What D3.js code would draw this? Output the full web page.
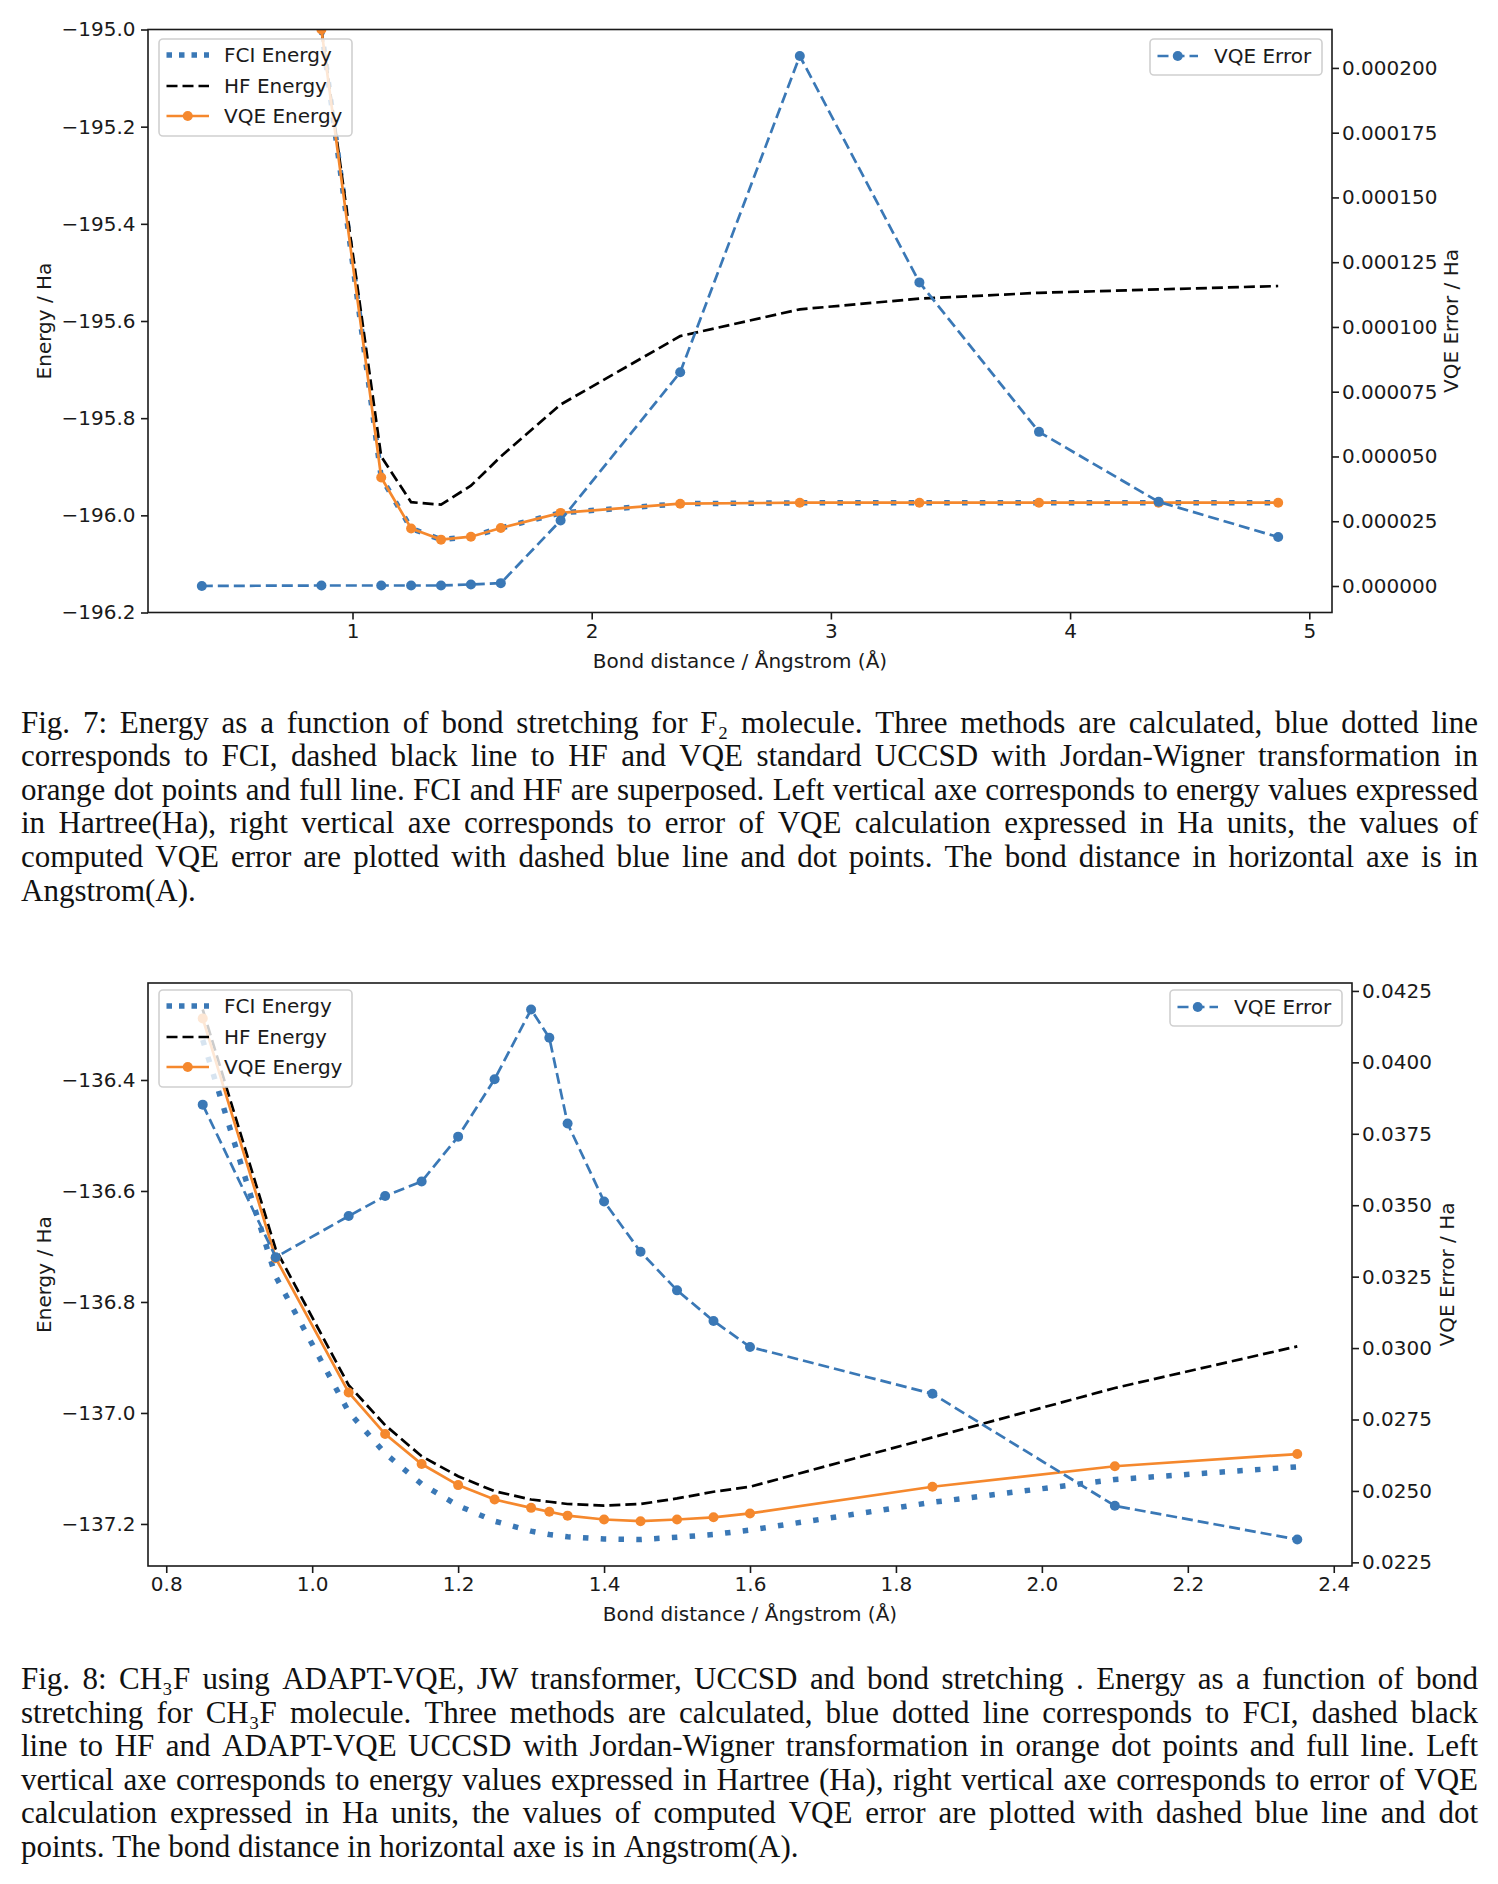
<!DOCTYPE html>
<html><head><meta charset="utf-8">
<script src="https://cdn.jsdelivr.net/npm/d3@7"></script>
<style>body{margin:0;background:#fff}svg{display:block}</style>
</head><body><svg id="c" width="1498" height="1884"></svg>
<script>
// ---------------- DATA ----------------
// Fig. 7  F2
const f2Dist = [0.37, 0.87, 1.12, 1.245, 1.37, 1.495, 1.62, 1.87, 2.37, 2.87, 3.37, 3.87, 4.37, 4.87];
const f2Fci  = [-185.0, -195.0, -195.922, -196.027, -196.050, -196.044, -196.026, -195.995, -195.9761, -195.9742, -195.9741, -195.9741, -195.9740, -195.9740];
const f2Hf   = [-184.5, -195.0, -195.879, -195.973, -195.978, -195.939, -195.879, -195.772, -195.631, -195.576, -195.554, -195.542, -195.535, -195.528];
const f2Vqe  = [-185.0, -195.0, -195.922, -196.027, -196.050, -196.044, -196.026, -195.995, -195.976, -195.974, -195.974, -195.974, -195.974, -195.974];
const f2Err  = [0.0000000, 0.0000002, 0.0000002, 0.0000002, 0.0000002, 0.0000006, 0.0000011, 0.0000253, 0.0000825, 0.0002046, 0.0001172, 0.0000595, 0.0000325, 0.0000189];
const f2EnergyTicks = [-196.2, -196.0, -195.8, -195.6, -195.4, -195.2, -195.0];
const f2DistTicks = [1, 2, 3, 4, 5];
const f2ErrTicks = [0, 0.000025, 0.00005, 0.000075, 0.0001, 0.000125, 0.00015, 0.000175, 0.0002];

// Fig. 8  CH3F
const chDist = [0.85, 0.95, 1.05, 1.1, 1.15, 1.2, 1.25, 1.3, 1.325, 1.35, 1.4, 1.45, 1.5, 1.55, 1.6, 1.85, 2.1, 2.35];
const chFci  = [-136.328, -136.754, -136.998, -137.073, -137.128, -137.167, -137.195, -137.213, -137.219, -137.223, -137.227, -137.228, -137.224, -137.219, -137.211, -137.161, -137.120, -137.097];
const chHf   = [-136.273, -136.705, -136.950, -137.022, -137.078, -137.114, -137.141, -137.156, -137.160, -137.164, -137.167, -137.164, -137.154, -137.142, -137.133, -137.044, -136.955, -136.880];
const chVqe  = [-136.289, -136.721, -136.963, -137.038, -137.092, -137.130, -137.156, -137.171, -137.178, -137.185, -137.192, -137.195, -137.192, -137.188, -137.181, -137.133, -137.096, -137.074];
const chErr  = [0.03852, 0.03318, 0.03462, 0.03532, 0.03583, 0.03740, 0.03941, 0.04185, 0.04086, 0.03786, 0.03513, 0.03337, 0.03202, 0.03095, 0.03004, 0.02840, 0.02448, 0.02330];
const chEnergyTicks = [-137.2, -137.0, -136.8, -136.6, -136.4];
const chDistTicks = [0.8, 1.0, 1.2, 1.4, 1.6, 1.8, 2.0, 2.2, 2.4];
const chErrTicks = [0.0225, 0.025, 0.0275, 0.03, 0.0325, 0.035, 0.0375, 0.04, 0.0425];

const energyLabels = ["FCI Energy", "HF Energy", "VQE Energy"];
const errorLabel = "VQE Error";
const xLabel = "Bond distance / Ångstrom (Å)";
const yLabel = "Energy / Ha";
const y2Label = "VQE Error / Ha";

const caption7 = [
  "Fig. 7: Energy as a function of bond stretching for F₂ molecule. Three methods are calculated, blue dotted line",
  "corresponds to FCI, dashed black line to HF and VQE standard UCCSD with Jordan-Wigner transformation in",
  "orange dot points and full line. FCI and HF are superposed. Left vertical axe corresponds to energy values expressed",
  "in Hartree(Ha), right vertical axe corresponds to error of VQE calculation expressed in Ha units, the values of",
  "computed VQE error are plotted with dashed blue line and dot points. The bond distance in horizontal axe is in",
  "Angstrom(A)."
];
const caption8 = [
  "Fig. 8: CH₃F using ADAPT-VQE, JW transformer, UCCSD and bond stretching . Energy as a function of bond",
  "stretching for CH₃F molecule. Three methods are calculated, blue dotted line corresponds to FCI, dashed black",
  "line to HF and ADAPT-VQE UCCSD with Jordan-Wigner transformation in orange dot points and full line. Left",
  "vertical axe corresponds to energy values expressed in Hartree (Ha), right vertical axe corresponds to error of VQE",
  "calculation expressed in Ha units, the values of computed VQE error are plotted with dashed blue line and dot",
  "points. The bond distance in horizontal axe is in Angstrom(A)."
];

// ---------------- DRAWING ----------------
const svg = d3.select('#c');
svg.append('rect').attr('width', 1498).attr('height', 1884).attr('fill', '#fff');
const SANS = "'DejaVu Sans', sans-serif";
const SERIF = "'Liberation Serif', 'Times New Roman', 'DejaVu Serif', serif";
const BLUE = '#3a78b6', ORANGE = '#f5882d', INK = '#1a1a1a';
const FS = 20;

function padExtent(a) {
  const [lo, hi] = d3.extent(a);
  const r = hi - lo;
  return [lo - 0.05 * r, hi + 0.05 * r];
}

function styleAxis(ax) {
  ax.attr('font-size', FS).attr('font-family', SANS).attr('color', INK);
  ax.select('.domain').remove();
  ax.selectAll('.tick line').attr('stroke-width', 1.6);
}

function drawChart(c, id) {
  const g = svg.append('g');
  const x = d3.scaleLinear().domain(padExtent(c.dist)).range([c.left, c.right]);
  const yE = d3.scaleLinear().domain(c.eDomain || padExtent(c.fci.concat(c.hf, c.vqe))).range([c.bottom, c.top]);
  const yR = d3.scaleLinear().domain(padExtent(c.err)).range([c.bottom, c.top]);
  const clipId = 'clip' + id;
  g.append('clipPath').attr('id', clipId).append('rect')
    .attr('x', c.left).attr('y', c.top).attr('width', c.right - c.left).attr('height', c.bottom - c.top);
  const idx = d3.range(c.dist.length);
  const lineOf = (arr, ys) => d3.line().x(i => x(c.dist[i])).y(i => ys(arr[i]))(idx);

  const p1 = g.append('g').attr('clip-path', `url(#${clipId})`);
  p1.append('path').attr('d', lineOf(c.fci, yE)).attr('fill', 'none').attr('stroke', BLUE)
    .attr('stroke-width', 5.5).attr('stroke-dasharray', '5.5,12.3');
  p1.append('path').attr('d', lineOf(c.hf, yE)).attr('fill', 'none').attr('stroke', '#000')
    .attr('stroke-width', 2.7).attr('stroke-dasharray', '11,5');
  p1.append('path').attr('d', lineOf(c.vqe, yE)).attr('fill', 'none').attr('stroke', ORANGE)
    .attr('stroke-width', 2.7);
  p1.selectAll(null).data(idx).enter().append('circle')
    .attr('cx', i => x(c.dist[i])).attr('cy', i => yE(c.vqe[i])).attr('r', 5).attr('fill', ORANGE);

  // legend 1
  const L = c.leg1;
  const lg = g.append('g');
  lg.append('rect').attr('x', L.x).attr('y', L.y).attr('width', L.w).attr('height', L.h).attr('rx', 4)
    .attr('fill', '#fff').attr('fill-opacity', 0.8).attr('stroke', '#d0d0d0').attr('stroke-width', 1.6);
  const rowsY = [L.y + 16, L.y + 47, L.y + 77];
  const hx0 = L.x + 7.5, hx1 = L.x + 50, tx = L.x + 65;
  lg.append('line').attr('x1', hx0).attr('x2', hx1).attr('y1', rowsY[0]).attr('y2', rowsY[0])
    .attr('stroke', BLUE).attr('stroke-width', 5.5).attr('stroke-dasharray', '5.5,7');
  lg.append('line').attr('x1', hx0).attr('x2', hx1).attr('y1', rowsY[1]).attr('y2', rowsY[1])
    .attr('stroke', '#000').attr('stroke-width', 2.7).attr('stroke-dasharray', '11,5');
  lg.append('line').attr('x1', hx0).attr('x2', hx1).attr('y1', rowsY[2]).attr('y2', rowsY[2])
    .attr('stroke', ORANGE).attr('stroke-width', 2.7);
  lg.append('circle').attr('cx', (hx0 + hx1) / 2).attr('cy', rowsY[2]).attr('r', 5).attr('fill', ORANGE);
  energyLabels.forEach((t, k) => {
    lg.append('text').attr('x', tx).attr('y', rowsY[k]).attr('dy', '0.36em')
      .attr('font-family', SANS).attr('font-size', FS).attr('fill', INK).text(t);
  });

  // error series (twin axis)
  const p2 = g.append('g').attr('clip-path', `url(#${clipId})`);
  p2.append('path').attr('d', lineOf(c.err, yR)).attr('fill', 'none').attr('stroke', BLUE)
    .attr('stroke-width', 2.7).attr('stroke-dasharray', '11,5');
  p2.selectAll(null).data(idx).enter().append('circle')
    .attr('cx', i => x(c.dist[i])).attr('cy', i => yR(c.err[i])).attr('r', 5).attr('fill', BLUE);

  // legend 2
  const M = c.leg2;
  const mg = g.append('g');
  mg.append('rect').attr('x', M.x).attr('y', M.y).attr('width', M.w).attr('height', M.h).attr('rx', 4)
    .attr('fill', '#fff').attr('fill-opacity', 0.8).attr('stroke', '#d0d0d0').attr('stroke-width', 1.6);
  const my = M.y + 17, mx0 = M.x + 7.5, mx1 = M.x + 48;
  mg.append('line').attr('x1', mx0).attr('x2', mx1).attr('y1', my).attr('y2', my)
    .attr('stroke', BLUE).attr('stroke-width', 2.7).attr('stroke-dasharray', '11,5');
  mg.append('circle').attr('cx', (mx0 + mx1) / 2).attr('cy', my).attr('r', 5).attr('fill', BLUE);
  mg.append('text').attr('x', M.x + 64).attr('y', my).attr('dy', '0.36em')
    .attr('font-family', SANS).attr('font-size', FS).attr('fill', INK).text(errorLabel);

  // frame
  g.append('rect').attr('x', c.left).attr('y', c.top).attr('width', c.right - c.left).attr('height', c.bottom - c.top)
    .attr('fill', 'none').attr('stroke', INK).attr('stroke-width', 1.6);

  // axes
  const axB = g.append('g').attr('transform', `translate(0,${c.bottom})`)
    .call(d3.axisBottom(x).tickValues(c.distTicks).tickFormat(d3.format(c.distFmt)).tickSize(7).tickPadding(4));
  styleAxis(axB);
  const axL = g.append('g').attr('transform', `translate(${c.left},0)`)
    .call(d3.axisLeft(yE).tickValues(c.eTicks).tickFormat(d3.format('.1f')).tickSize(7).tickPadding(5.5));
  styleAxis(axL);
  const axR = g.append('g').attr('transform', `translate(${c.right},0)`)
    .call(d3.axisRight(yR).tickValues(c.errTicks).tickFormat(d3.format(c.errFmt)).tickSize(7).tickPadding(3));
  styleAxis(axR);

  // axis labels
  const midY = (c.top + c.bottom) / 2;
  g.append('text').attr('x', (c.left + c.right) / 2).attr('y', c.bottom + 55).attr('text-anchor', 'middle')
    .attr('font-family', SANS).attr('font-size', FS).attr('fill', INK).text(xLabel);
  g.append('text').attr('transform', `translate(${c.yLabelX},${midY}) rotate(-90)`).attr('text-anchor', 'middle')
    .attr('font-family', SANS).attr('font-size', FS).attr('fill', INK).text(yLabel);
  g.append('text').attr('transform', `translate(${c.y2LabelX},${midY}) rotate(-90)`).attr('text-anchor', 'middle')
    .attr('font-family', SANS).attr('font-size', FS).attr('fill', INK).text(y2Label);
}

drawChart({
  dist: f2Dist, fci: f2Fci, hf: f2Hf, vqe: f2Vqe, err: f2Err,
  eDomain: [d3.min(f2EnergyTicks), d3.max(f2EnergyTicks)],
  eTicks: f2EnergyTicks, distTicks: f2DistTicks, errTicks: f2ErrTicks,
  distFmt: 'd', errFmt: '.6f',
  left: 148, right: 1332, top: 29.5, bottom: 612.5,
  yLabelX: 51, y2LabelX: 1458,
  leg1: {x: 159, y: 39, w: 193, h: 97},
  leg2: {x: 1150, y: 39, w: 172, h: 36}
}, 1);

drawChart({
  dist: chDist, fci: chFci, hf: chHf, vqe: chVqe, err: chErr,
  eTicks: chEnergyTicks, distTicks: chDistTicks, errTicks: chErrTicks,
  distFmt: '.1f', errFmt: '.4f',
  left: 148, right: 1352, top: 983, bottom: 1566,
  yLabelX: 51, y2LabelX: 1454,
  leg1: {x: 159, y: 990, w: 193, h: 97},
  leg2: {x: 1170, y: 990, w: 172, h: 36}
}, 2);

// ---------------- CAPTIONS ----------------
function drawCaption(lines, x0, x1, y0, dy, fs) {
  const g = svg.append('g').attr('font-family', SERIF).attr('font-size', fs).attr('fill', '#111');
  lines.forEach((line, li) => {
    const y = y0 + li * dy;
    const words = line.split(' ');
    const nodes = words.map(w => g.append('text').attr('x', 0).attr('y', y).text(w));
    const widths = nodes.map(n => n.node().getComputedTextLength());
    const sum = d3.sum(widths);
    const last = li === lines.length - 1;
    const gap = last ? fs * 0.25 : (x1 - x0 - sum) / (words.length - 1);
    let cx = x0;
    nodes.forEach((n, k) => { n.attr('x', cx); cx += widths[k] + gap; });
  });
}
drawCaption(caption7, 21, 1478, 732.5, 33.6, 31);
drawCaption(caption8, 21, 1478, 1689, 33.6, 31);
</script>
</body></html>
